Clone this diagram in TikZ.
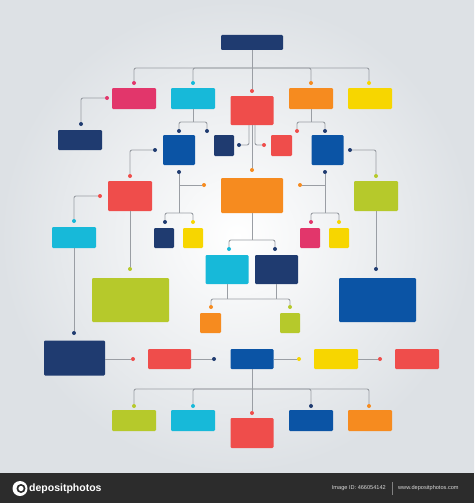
\documentclass[tikz,border=0pt]{standalone}
\usepackage{fontspec}
\newfontfamily\barfont{Liberation Sans}
\usepackage{xcolor}
\usepackage{tikz}
\usetikzlibrary{calc}

\definecolor{navy}{HTML}{1F3B70}
\definecolor{blue}{HTML}{0B54A5}
\definecolor{pink}{HTML}{E2366B}
\definecolor{cyan}{HTML}{17B9D9}
\definecolor{red}{HTML}{EF4D4B}
\definecolor{orange}{HTML}{F68B1F}
\definecolor{yellow}{HTML}{F7D600}
\definecolor{green}{HTML}{B6C92B}
\definecolor{linegray}{HTML}{9A9EA4}
\definecolor{bggray}{HTML}{DDE1E5}
\definecolor{barcolor}{HTML}{2C2C2C}

\begin{document}
\begin{tikzpicture}[x=1pt, y=-1pt,
    box/.style={rectangle, rounded corners=1.2pt, inner sep=0pt},
    wide/.style={box, minimum width=44pt, minimum height=21pt},
    sq/.style={box, minimum width=20pt, minimum height=20pt},
    dot/.style={circle, inner sep=0pt, minimum size=4pt},
    link/.style={draw=linegray, line width=0.9pt, rounded corners=2pt}]
    \useasboundingbox (0,0) rectangle (474,503);
    \shade[inner color=white, outer color=bggray] (0,0) rectangle (474,473);
    \fill[barcolor] (0,473) rectangle (474,503);

    \node[box, fill=navy, minimum width=62pt, minimum height=15pt] (root) at (252,42.5) {};

    \node[wide, fill=pink] (pink1) at (134,98.5) {};
    \node[wide, fill=cyan] (cyan1) at (193,98.5) {};
    \node[box, fill=red, minimum width=43pt, minimum height=29pt] (red1) at (252,110.5) {};
    \node[wide, fill=orange] (orange1) at (311,98.5) {};
    \node[wide, fill=yellow] (yellow1) at (370,98.5) {};

    \node[dot, fill=pink] (dpink1) at (134,83) {};
    \node[dot, fill=cyan] (dcyan1) at (193,83) {};
    \node[dot, fill=red] (dred1) at (252,91) {};
    \node[dot, fill=orange] (dorange1) at (311,83) {};
    \node[dot, fill=yellow] (dyellow1) at (369,83) {};
    \coordinate (bus1) at (252,68);
    \draw[link] (root) -- (dred1);
    \draw[link] (dpink1) |- (bus1) -| (dyellow1);
    \draw[link] (dcyan1) |- (bus1);
    \draw[link] (dorange1) |- (bus1);

    \node[box, fill=navy, minimum width=44pt, minimum height=20pt] (navyL) at (80,140) {};
    \node[dot, fill=pink] (dpink2) at (107,98) {};
    \node[dot, fill=navy] (dnavyL) at (81,124) {};
    \draw[link] (dpink2) -| (dnavyL);

    \node[box, fill=blue, minimum width=32pt, minimum height=30pt] (blueL) at (179,150) {};
    \node[box, fill=navy, minimum width=20pt, minimum height=21pt] (navyS) at (224,145.5) {};
    \node[box, fill=red, minimum width=21pt, minimum height=21pt] (redS) at (281.5,145.5) {};
    \node[box, fill=blue, minimum width=32pt, minimum height=30pt] (blueR) at (327.5,150) {};

    \node[dot, fill=navy] (dblueL) at (179,131) {};
    \node[dot, fill=navy] (dnavyS) at (207,131) {};
    \coordinate (bus2) at (193,122);
    \draw[link] (cyan1) -- (bus2);
    \draw[link] (dblueL) |- (bus2) -| (dnavyS);

    \node[dot, fill=red] (dredS) at (297,131) {};
    \node[dot, fill=navy] (dblueR) at (325,131) {};
    \coordinate (bus3) at (311,122);
    \draw[link] (orange1) -- (bus3);
    \draw[link] (dredS) |- (bus3) -| (dblueR);

    \node[dot, fill=navy] (dnavy2) at (239,145) {};
    \node[dot, fill=red] (dred2) at (264,145) {};
    \draw[link] ([xshift=-3pt]red1.south) |- (dnavy2);
    \draw[link] ([xshift=3pt]red1.south) |- (dred2);

    \node[box, fill=red, minimum width=44pt, minimum height=30pt] (redL) at (130,196) {};
    \node[box, fill=orange, minimum width=62pt, minimum height=35pt] (orangeC) at (252,195.5) {};
    \node[box, fill=green, minimum width=44pt, minimum height=30pt] (greenR) at (376,196) {};
    \node[dot, fill=orange] (dorangeC) at (252,170) {};
    \draw[link] (red1) -- (dorangeC);

    \node[dot, fill=navy] (dside1) at (155,150) {};
    \node[dot, fill=red] (dredL) at (130,176) {};
    \draw[link] (dside1) -| (dredL);
    \node[dot, fill=navy] (dside2) at (350,150) {};
    \node[dot, fill=green] (dgreenR) at (376,176) {};
    \draw[link] (dside2) -| (dgreenR);

    \node[sq, fill=navy] (navyT) at (164,238) {};
    \node[sq, fill=yellow] (yellowT) at (193,238) {};
    \node[dot, fill=navy] (dsub1) at (179,172) {};
    \node[dot, fill=orange] (dorange2) at (204,185) {};
    \node[dot, fill=navy] (dnavyT) at (165,222) {};
    \node[dot, fill=yellow] (dyellowT) at (193,222) {};
    \coordinate (bus4) at (179,213);
    \draw[link] (dsub1) -- (bus4);
    \draw[link] (dsub1 |- dorange2) -- (dorange2);
    \draw[link] (dnavyT) |- (bus4) -| (dyellowT);

    \node[sq, fill=pink] (pinkT) at (310,238) {};
    \node[sq, fill=yellow] (yellowT2) at (339,238) {};
    \node[dot, fill=navy] (dsub2) at (325,172) {};
    \node[dot, fill=orange] (dorange3) at (300,185) {};
    \node[dot, fill=pink] (dpinkT) at (311,222) {};
    \node[dot, fill=yellow] (dyellowT2) at (339,222) {};
    \coordinate (bus5) at (325,213);
    \draw[link] (dsub2) -- (bus5);
    \draw[link] (dsub2 |- dorange3) -- (dorange3);
    \draw[link] (dpinkT) |- (bus5) -| (dyellowT2);

    \node[dot, fill=red] (dred3) at (100,196) {};
    \node[dot, fill=cyan] (dcyanL) at (74,221) {};
    \draw[link] (dred3) -| (dcyanL);
    \node[wide, fill=cyan] (cyanL) at (74,237.5) {};
    \node[dot, fill=navy] (dnavyB) at (74,333) {};
    \draw[link] (cyanL) -- (dnavyB);
    \node[box, fill=navy, minimum width=61pt, minimum height=35pt] (navyB) at (74.5,358) {};

    \node[dot, fill=green] (dgreenB) at (130,269) {};
    \draw[link] (redL) -- (dgreenB);
    \node[box, fill=green, minimum width=77pt, minimum height=44pt] (greenB) at (130.5,300) {};
    \node[dot, fill=navy] (dblueB) at (376,269) {};
    \draw[link] (greenR) -- (dblueB);
    \node[box, fill=blue, minimum width=77pt, minimum height=44pt] (blueB) at (377.5,300) {};

    \node[box, fill=cyan, minimum width=43pt, minimum height=29pt] (cyanM) at (227,269.5) {};
    \node[box, fill=navy, minimum width=43pt, minimum height=29pt] (navyM) at (276.5,269.5) {};
    \node[dot, fill=cyan] (dcyanM) at (229,249) {};
    \node[dot, fill=navy] (dnavyM) at (275,249) {};
    \coordinate (bus6) at (252,240);
    \draw[link] (orangeC) -- (bus6);
    \draw[link] (dcyanM) |- (bus6) -| (dnavyM);

    \node[box, fill=orange, minimum width=21pt, minimum height=20pt] (orangeS) at (210.5,323) {};
    \node[sq, fill=green] (greenS) at (290,323) {};
    \node[dot, fill=orange] (dorangeS) at (211,307) {};
    \node[dot, fill=green] (dgreenS) at (290,307) {};
    \coordinate (bus7) at (250,299);
    \draw[link] (cyanM) -- (cyanM |- bus7);
    \draw[link] (navyM) -- (navyM |- bus7);
    \draw[link] (dorangeS) |- (bus7) -| (dgreenS);

    \node[box, fill=red, minimum width=43pt, minimum height=20pt] (red2) at (169.5,359) {};
    \node[box, fill=blue, minimum width=43pt, minimum height=20pt] (blue2) at (252,359) {};
    \node[box, fill=yellow, minimum width=44pt, minimum height=20pt] (yellow2) at (336,359) {};
    \node[box, fill=red, minimum width=44pt, minimum height=20pt] (red3) at (417,359) {};
    \node[dot, fill=red] (dr2) at (133,359) {};
    \node[dot, fill=navy] (dn2) at (214,359) {};
    \node[dot, fill=yellow] (dy2) at (299,359) {};
    \node[dot, fill=red] (dr3) at (380,359) {};
    \draw[link] (navyB.east |- dr2) -- (dr2);
    \draw[link] (red2) -- (dn2);
    \draw[link] (blue2) -- (dy2);
    \draw[link] (yellow2) -- (dr3);

    \node[wide, fill=green] (green4) at (134,420.5) {};
    \node[wide, fill=cyan] (cyan4) at (193,420.5) {};
    \node[box, fill=red, minimum width=43pt, minimum height=30pt] (red4) at (252,433) {};
    \node[wide, fill=blue] (blue4) at (311,420.5) {};
    \node[wide, fill=orange] (orange4) at (370,420.5) {};
    \node[dot, fill=green] (dgreen4) at (134,406) {};
    \node[dot, fill=cyan] (dcyan4) at (193,406) {};
    \node[dot, fill=red] (dred4) at (252,413) {};
    \node[dot, fill=navy] (dblue4) at (311,406) {};
    \node[dot, fill=orange] (dorange4) at (369,406) {};
    \coordinate (bus8) at (252,389);
    \draw[link] (blue2) -- (dred4);
    \draw[link] (dgreen4) |- (bus8) -| (dorange4);
    \draw[link] (dcyan4) |- (bus8);
    \draw[link] (dblue4) |- (bus8);

    \fill[white] (20,488.5) circle (7.5);
    \fill[barcolor] (21,488.5) circle (4.5);
    \fill[white] (21,488.5) circle (2.6);
    \node[anchor=west, text=white, inner sep=0pt,
        font=\barfont\bfseries\fontsize{10.5}{12}\selectfont] (logo) at (29,488.5) {depositphotos};
    \node[anchor=east, text=white!85!black, inner sep=0pt,
        font=\barfont\fontsize{5.6}{7}\selectfont] (imageid) at (386,488) {Image ID: 466054142};
    \draw[white!40!barcolor, line width=0.5pt] (392,482) -- (392,495);
    \node[anchor=west, text=white!85!black, inner sep=0pt,
        font=\barfont\fontsize{5.6}{7}\selectfont] (site) at (398,488) {www.depositphotos.com};
\end{tikzpicture}
\end{document}
